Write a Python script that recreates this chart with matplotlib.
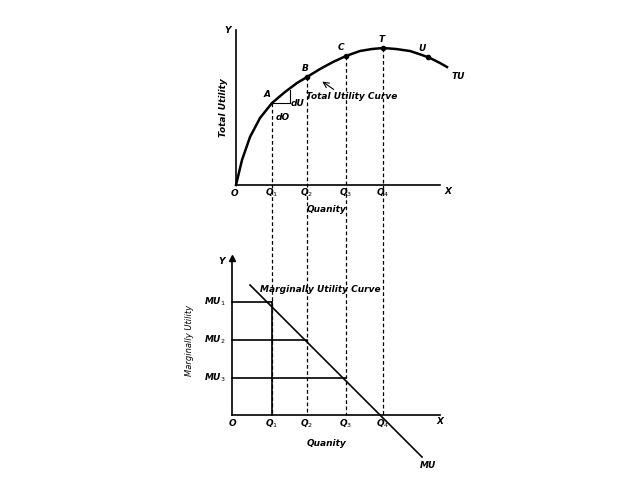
import matplotlib
matplotlib.use("Agg")
import matplotlib.pyplot as plt

# Quantity positions (pixel-space diagram coordinates)
q_labels = ["O", "Q$_1$", "Q$_2$", "Q$_3$", "Q$_4$"]
q_x = [234, 272, 307, 346, 383]
# Total utility curve points
tu_x = [236, 242, 250, 260, 272, 285, 297, 307, 320, 333, 346, 360, 372, 383, 396, 410, 422, 430, 440, 447]
tu_y = [185, 160, 137, 118, 103, 92, 83, 77, 69, 62, 56, 51, 49, 48, 49, 51, 55, 58, 63, 67]
pt_labels = ["A", "B", "C", "T", "U"]
pt_x = [272, 307, 346, 383, 428]
pt_y = [103, 77, 56, 48, 57]
# Marginal utility
mu_labels = ["MU$_1$", "MU$_2$", "MU$_3$"]
mu_y = [302, 340, 378]
mu_line_x = [250, 422]
mu_line_y = [285, 457]

fig = plt.figure(figsize=(6.38, 4.78), dpi=100)
ax = fig.add_axes([0, 0, 1, 1])
ax.set_xlim(0, 638); ax.set_ylim(478, 0); ax.axis("off")
k = dict(color="black", lw=1.2)
fs = dict(fontsize=6.5, style="italic", fontweight="bold")

# top axes
ax.plot([236, 236], [30, 185], **k)
ax.plot([236, 440], [185, 185], **k)
ax.text(231, 30, "Y", ha="right", va="center", **fs)
ax.text(448, 192, "X", ha="center", va="center", **fs)
for lab, x in zip(q_labels, q_x):
    ax.text(x, 193, lab, ha="center", va="center", **fs)
ax.text(327, 209, "Quanity", ha="center", va="center", **fs)
ax.text(224, 108, "Total Utility", rotation=90, ha="center", va="center", **fs)
ax.plot(tu_x, tu_y, color="black", lw=1.8)
ax.plot(pt_x[1:], pt_y[1:], "o", color="black", ms=3)
for lab, x, y in zip(pt_labels, pt_x, pt_y):
    dx = {"A": -5, "B": -2, "C": -5, "T": -1, "U": -6}[lab]
    ax.text(x + dx, y - 9, lab, ha="center", va="center", **fs)
ax.text(458, 76, "TU", ha="center", va="center", **fs)
ax.plot([272, 290, 290], [103, 103, 90], color="black", lw=0.8)
ax.text(298, 103, "dU", ha="center", va="center", **fs)
ax.text(283, 117, "dO", ha="center", va="center", **fs)
ax.annotate("", xy=(320, 80), xytext=(336, 91), arrowprops=dict(arrowstyle="->", lw=0.8))
ax.text(352, 96, "Total Utility Curve", ha="center", va="center", **fs)

# bottom axes
ax.plot([232, 232], [258, 415], **k)
ax.plot([232, 440], [415, 415], **k)
ax.plot(232, 258, marker="^", color="black", ms=4)
ax.text(225, 262, "Y", ha="right", va="center", **fs)
ax.text(440, 422, "X", ha="center", va="center", **fs)
for lab, x in zip(q_labels, q_x):
    xx = 232 if lab == "O" else x
    ax.text(xx, 424, lab, ha="center", va="center", **fs)
ax.text(327, 443, "Quanity", ha="center", va="center", **fs)
ax.text(190, 340, "Marginally Utility", rotation=90, ha="center", va="center", fontsize=6, style="italic")
for lab, y in zip(mu_labels, mu_y):
    ax.text(226, y, lab, ha="right", va="center", **fs)
ax.plot(mu_line_x, mu_line_y, **k)
ax.text(428, 466, "MU", ha="center", va="center", **fs)
ax.text(320, 290, "Marginally Utility Curve", ha="center", va="center", **fs)
ax.plot([232, 346], [mu_y[2]] * 2, **k)
ax.plot([232, 307], [mu_y[1]] * 2, **k)
ax.plot([232, 272], [mu_y[0]] * 2, **k)
ax.plot([272, 272], [mu_y[0], 415], **k)

# dashed connectors
for x, y in zip(q_x[1:], [103, 77, 56, 48]):
    ax.plot([x, x], [y, 415], color="black", lw=0.9, ls=(0, (3, 2)))

fig.savefig("out.png", dpi=100, facecolor="white")
